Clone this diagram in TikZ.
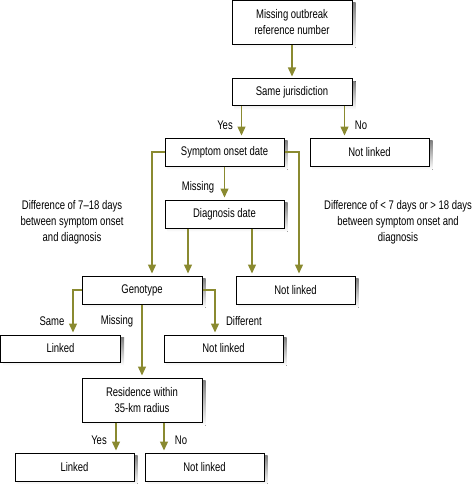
\documentclass[tikz,border=0pt]{standalone}
\usepackage{fontspec}
\setmainfont{Liberation Sans}[FakeStretch=0.76]
\usetikzlibrary{arrows.meta,calc,backgrounds}
\definecolor{olive}{HTML}{8A8A30}
\definecolor{shade}{HTML}{C4C4C4}
\begin{document}
\begin{tikzpicture}[x=1pt,y=-1pt,
  font=\fontsize{12.5}{16}\selectfont,
  box/.style={draw=black,line width=1pt,fill=white,rectangle,inner sep=0pt,align=center,
    minimum width=119pt,minimum height=28pt},
  tall/.style={minimum height=44pt},
  arr/.style={draw=olive,line width=1.4pt,-{Triangle[length=9pt,width=8pt]},shorten >=2pt},
  lbl/.style={inner sep=0pt,align=center}]
\useasboundingbox (0,0) rectangle (474,484);
% boxes
\node[box,tall,minimum width=120pt] (b1) at (292,22.5) {Missing outbreak\\reference number};
\node[box,minimum width=120pt,minimum height=27pt] (b2) at (292,92.5) {Same jurisdiction};
\node[box] (sym) at (224.5,152) {Symptom onset date};
\node[box] (nl1) at (369.5,152) {Not linked};
\node[box] (diag) at (224.5,214) {Diagnosis date};
\node[box,minimum width=120pt] (geno) at (142,290) {Genotype};
\node[box] (nl2) at (295.5,290) {Not linked};
\node[box,minimum width=120pt,minimum height=27pt] (lk1) at (60.5,348.5) {Linked};
\node[box,minimum height=27pt] (nl3) at (223.5,348.5) {Not linked};
\node[box,tall,minimum width=120pt] (res) at (142,400) {Residence within\\35-km radius};
\node[box] (lk2) at (74.5,467) {Linked};
\node[box] (nl4) at (204.5,467) {Not linked};
% shadows
\begin{scope}[on background layer]
\foreach \n in {b1,b2,sym,nl1,diag,geno,nl2,lk1,nl3,res,lk2,nl4}
  \fill[shade] ([shift={(3,3)}]\n.north west) rectangle ([shift={(3,3)}]\n.south east);
\end{scope}
% connectors
\draw[arr] (b1.south) -- (b2.north);
\draw[arr] ([xshift=10pt]b2.south west) -- ([xshift=10pt]b2.south west |- sym.north);
\draw[arr] ([xshift=-8pt]b2.south east) -- ([xshift=-8pt]b2.south east |- nl1.north);
\draw[arr] (sym.west) -- ([xshift=-12.5pt]sym.west) -- ([xshift=-12.5pt]sym.west |- geno.north);
\draw[arr] (sym.east) -- ([xshift=14.5pt]sym.east) -- ([xshift=14.5pt]sym.east |- nl2.north);
\draw[arr] (sym.south) -- (diag.north);
\draw[arr] ([xshift=-36.5pt]diag.south) -- ([xshift=-36.5pt]diag.south |- geno.north);
\draw[arr] ([xshift=27.5pt]diag.south) -- ([xshift=27.5pt]diag.south |- nl2.north);
\draw[arr] (geno.west) -- ([xshift=-8.5pt]geno.west) -- ([xshift=-8.5pt]geno.west |- lk1.north);
\draw[arr] (geno.east) -- ([xshift=12.5pt]geno.east) -- ([xshift=12.5pt]geno.east |- nl3.north);
\draw[arr] (geno.south) -- (res.north);
\draw[arr] ([xshift=-26pt]res.south) -- ([xshift=-26pt]res.south |- lk2.north);
\draw[arr] ([xshift=22pt]res.south) -- ([xshift=22pt]res.south |- nl4.north);
% labels
\node[lbl] (lyes1) at (225,125) {Yes};
\node[lbl] (lno1) at (361,125) {No};
\node[lbl] (lmiss1) at (198,187) {Missing};
\node[lbl] (ldiffa) at (72,222) {Difference of 7--18 days\\between symptom onset\\and diagnosis};
\node[lbl] (ldiffb) at (398,222) {Difference of < 7 days or > 18 days\\between symptom onset and\\diagnosis};
\node[lbl] (lsame) at (52,321) {Same};
\node[lbl] (lmiss2) at (117,321) {Missing};
\node[lbl] (ldiff) at (244,321) {Different};
\node[lbl] (lyes2) at (99,440) {Yes};
\node[lbl] (lno2) at (181,440) {No};
\end{tikzpicture}
\end{document}
